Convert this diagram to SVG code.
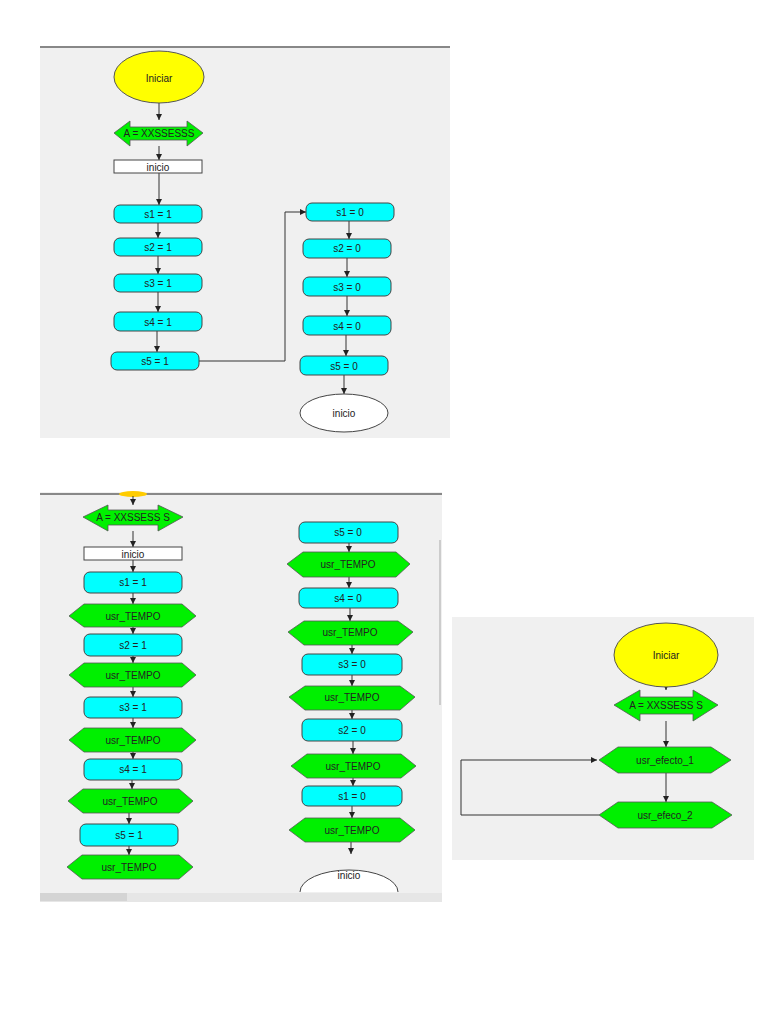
<svg xmlns="http://www.w3.org/2000/svg" width="768" height="1024" viewBox="0 0 768 1024">
<defs>
<style>
.bg{fill:#f0f0f0}
.y{fill:#ffff00;stroke:#555;stroke-width:1}
.g{fill:#00f000;stroke:#555;stroke-width:0.8}
.c{fill:#00ffff;stroke:#444;stroke-width:1}
.w{fill:#fff;stroke:#444;stroke-width:1}
text{font-family:"Liberation Sans",Arial,sans-serif;font-size:10px;fill:#222;text-anchor:middle;dominant-baseline:central}
.ln{fill:none;stroke:#333;stroke-width:1}
</style>
<marker id="a" viewBox="0 0 8 8" refX="8" refY="4" markerWidth="6" markerHeight="6" orient="auto"><path d="M0,0L8,4L0,8z" fill="#222"/></marker>
</defs>
<rect x="0" y="0" width="768" height="1024" fill="#fff"/>
<!-- panel 1 -->
<rect class="bg" x="40" y="46" width="410" height="392"/>
<line x1="40" y1="47" x2="450" y2="47" stroke="#888" stroke-width="2"/>
<g class="ln" marker-end="url(#a)">
<path d="M159,103V120"/><path d="M159,146V160"/><path d="M159,173V205"/><path d="M158,223V238"/><path d="M158,256V274"/><path d="M158,292V312"/><path d="M157,331V352"/>
<path d="M199,361H285V212H306"/>
<path d="M349,221V239"/><path d="M347,258V277"/><path d="M347,296V316"/><path d="M346,335V356"/><path d="M344,375V394"/>
</g>
<g id="p1-iniciar"><ellipse class="y" cx="159" cy="77" rx="45" ry="26"/><text x="159" y="78">Iniciar</text></g>
<g id="p1-a"><path class="g" d="M114,133L130,121V127H187V121L203,133L187,146V140H130V146Z"/><text x="159" y="133">A = XXSSESSS</text></g>
<g id="p1-inicio"><rect class="w" x="114" y="160" width="88" height="13"/><text x="158" y="167">inicio</text></g>
<g id="p1-s11"><rect class="c" x="114" y="205" width="88" height="18" rx="6"/><text x="158" y="214">s1 = 1</text></g>
<g id="p1-s21"><rect class="c" x="114" y="238" width="88" height="18" rx="6"/><text x="158" y="247">s2 = 1</text></g>
<g id="p1-s31"><rect class="c" x="114" y="274" width="88" height="18" rx="6"/><text x="158" y="283">s3 = 1</text></g>
<g id="p1-s41"><rect class="c" x="114" y="312" width="88" height="19" rx="6"/><text x="158" y="322">s4 = 1</text></g>
<g id="p1-s51"><rect class="c" x="111" y="352" width="88" height="18" rx="6"/><text x="155" y="361">s5 = 1</text></g>
<g id="p1-s10"><rect class="c" x="306" y="203" width="88" height="18" rx="6"/><text x="350" y="212">s1 = 0</text></g>
<g id="p1-s20"><rect class="c" x="303" y="239" width="88" height="19" rx="6"/><text x="347" y="248">s2 = 0</text></g>
<g id="p1-s30"><rect class="c" x="303" y="277" width="88" height="19" rx="6"/><text x="347" y="287">s3 = 0</text></g>
<g id="p1-s40"><rect class="c" x="303" y="316" width="88" height="19" rx="6"/><text x="347" y="326">s4 = 0</text></g>
<g id="p1-s50"><rect class="c" x="300" y="356" width="88" height="19" rx="6"/><text x="344" y="366">s5 = 0</text></g>
<g id="p1-fin"><ellipse class="w" cx="344" cy="413" rx="44" ry="19"/><text x="344" y="413">inicio</text></g>

<!-- panel 2 -->
<rect class="bg" x="40" y="492" width="402" height="410"/>
<line x1="40" y1="494" x2="442" y2="494" stroke="#888" stroke-width="2"/>
<rect x="40" y="893" width="402" height="9" fill="#e6e6e6"/>
<rect x="40" y="893" width="87" height="8" fill="#d4d4d4"/>
<line x1="440" y1="540" x2="440" y2="705" stroke="#ccc" stroke-width="2"/>
<ellipse cx="133" cy="494" rx="14" ry="3" fill="#ffcc00"/>
<g class="ln" marker-end="url(#a)">
<path d="M133,496V505"/><path d="M133,531V547"/><path d="M133,560V572"/><path d="M133,593V604"/><path d="M133,627V634"/><path d="M133,656V663"/><path d="M133,687V697"/><path d="M133,718V728"/><path d="M133,752V759"/><path d="M132,780V789"/><path d="M129,813V824"/><path d="M129,846V855"/>
<path d="M349,543V552"/><path d="M349,577V588"/><path d="M350,608V621"/><path d="M352,645V654"/><path d="M352,675V686"/><path d="M352,710V719"/><path d="M353,741V754"/><path d="M353,778V786"/><path d="M352,806V818"/><path d="M351,842V854"/>
</g>
<g id="p2-a"><path class="g" d="M83,517L108,505V510H158V505L183,517L158,531V525H108V531Z"/><text x="133" y="517">A = XXSSESS S</text></g>
<g id="p2-inicio"><rect class="w" x="84" y="547" width="98" height="13"/><text x="133" y="554">inicio</text></g>
<g id="p2-s11"><rect class="c" x="84" y="572" width="98" height="21" rx="6"/><text x="133" y="582">s1 = 1</text></g>
<g id="p2-t1"><path class="g" d="M69,616L84,604H182L196,616L182,627H84Z"/><text x="133" y="616">usr_TEMPO</text></g>
<g id="p2-s21"><rect class="c" x="84" y="634" width="98" height="22" rx="6"/><text x="133" y="645">s2 = 1</text></g>
<g id="p2-t2"><path class="g" d="M69,675L84,663H182L196,675L182,687H84Z"/><text x="133" y="675">usr_TEMPO</text></g>
<g id="p2-s31"><rect class="c" x="84" y="697" width="98" height="21" rx="6"/><text x="133" y="707">s3 = 1</text></g>
<g id="p2-t3"><path class="g" d="M69,740L84,728H182L196,740L182,752H84Z"/><text x="133" y="740">usr_TEMPO</text></g>
<g id="p2-s41"><rect class="c" x="84" y="759" width="98" height="21" rx="6"/><text x="133" y="769">s4 = 1</text></g>
<g id="p2-t4"><path class="g" d="M68,801L83,789H179L193,801L179,813H83Z"/><text x="130" y="801">usr_TEMPO</text></g>
<g id="p2-s51"><rect class="c" x="80" y="824" width="98" height="22" rx="6"/><text x="129" y="835">s5 = 1</text></g>
<g id="p2-t5"><path class="g" d="M67,867L82,855H179L193,867L179,879H82Z"/><text x="129" y="867">usr_TEMPO</text></g>
<g id="p2-s50"><rect class="c" x="299" y="522" width="99" height="21" rx="6"/><text x="348" y="532">s5 = 0</text></g>
<g id="p2-u1"><path class="g" d="M287,564L303,552H396L410,564L396,577H303Z"/><text x="348" y="564">usr_TEMPO</text></g>
<g id="p2-s40"><rect class="c" x="299" y="588" width="99" height="20" rx="6"/><text x="348" y="598">s4 = 0</text></g>
<g id="p2-u2"><path class="g" d="M288,632L304,621H398L413,632L398,645H304Z"/><text x="350" y="632">usr_TEMPO</text></g>
<g id="p2-s30"><rect class="c" x="302" y="654" width="100" height="21" rx="6"/><text x="352" y="664">s3 = 0</text></g>
<g id="p2-u3"><path class="g" d="M289,697L305,686H400L415,697L400,710H305Z"/><text x="352" y="697">usr_TEMPO</text></g>
<g id="p2-s20"><rect class="c" x="302" y="719" width="100" height="22" rx="6"/><text x="352" y="730">s2 = 0</text></g>
<g id="p2-u4"><path class="g" d="M291,766L307,754H401L416,766L401,778H307Z"/><text x="353" y="766">usr_TEMPO</text></g>
<g id="p2-s10"><rect class="c" x="302" y="786" width="100" height="20" rx="6"/><text x="352" y="796">s1 = 0</text></g>
<g id="p2-u5"><path class="g" d="M289,830L305,818H400L415,830L400,842H305Z"/><text x="352" y="830">usr_TEMPO</text></g>
<g id="p2-fin"><path class="w" d="M300,892A49,22 0 1 1 398,892"/><text x="349" y="875">inicio</text></g>

<!-- panel 3 -->
<rect class="bg" x="452" y="617" width="302" height="243"/>
<g class="ln" marker-end="url(#a)">
<path d="M666,687V690"/><path d="M666,721V747"/><path d="M666,773V802"/>
<path d="M599,815H461V760H597"/>
</g>
<g id="p3-iniciar"><ellipse class="y" cx="666" cy="655" rx="52" ry="32"/><text x="666" y="655">Iniciar</text></g>
<g id="p3-a"><path class="g" d="M614,705L640,690V697H693V690L718,705L693,721V714H640V721Z"/><text x="666" y="705">A = XXSSESS S</text></g>
<g id="p3-e1"><path class="g" d="M599,760L618,747H711L731,760L711,773H618Z"/><text x="665" y="760">usr_efecto_1</text></g>
<g id="p3-e2"><path class="g" d="M599,815L618,802H712L732,815L712,828H618Z"/><text x="665" y="815">usr_efeco_2</text></g>
</svg>
